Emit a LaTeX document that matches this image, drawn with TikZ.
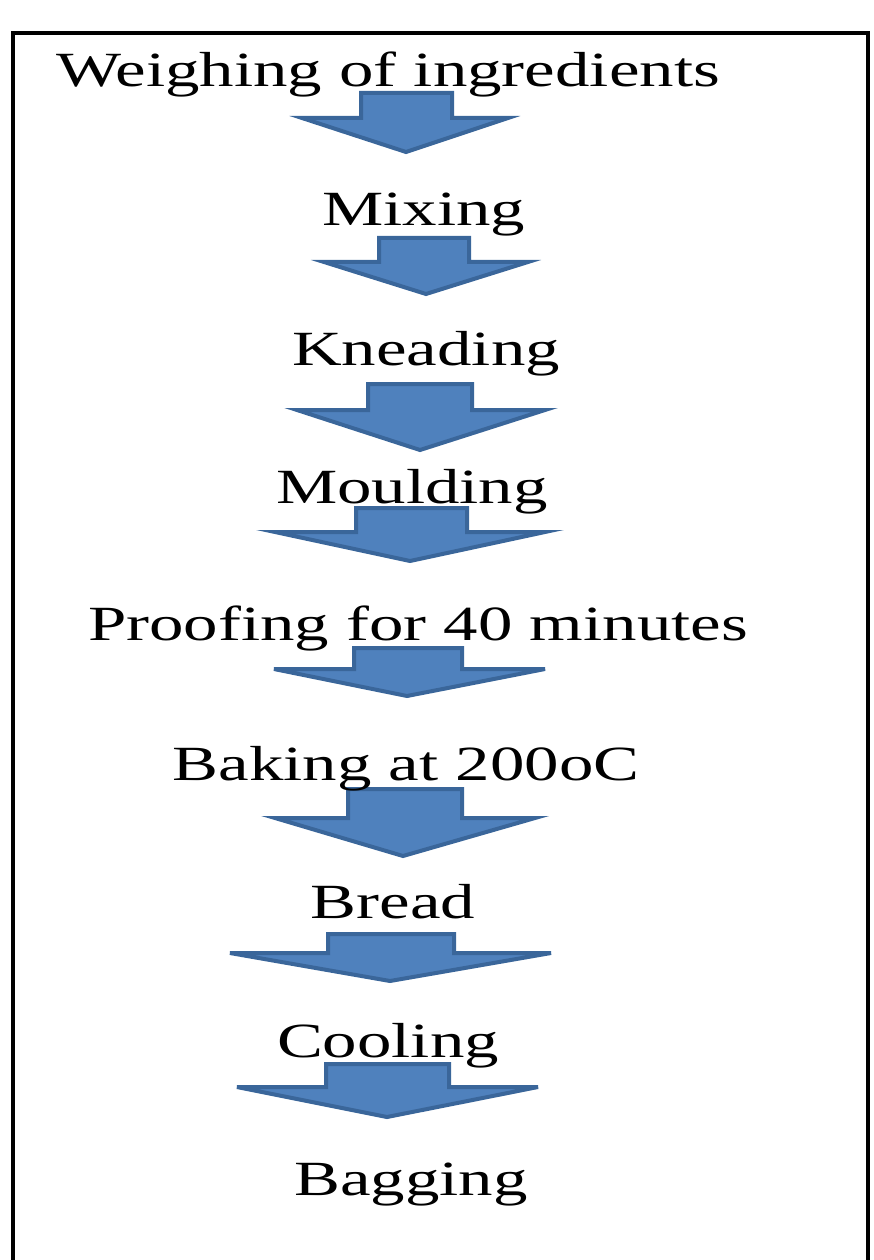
\documentclass[tikz,border=0pt]{standalone}
\usepackage{fontspec}
\setmainfont{Liberation Serif}
\usepackage{tikz}
\usetikzlibrary{positioning,calc}
\usepackage{xcolor}

\definecolor{arrowfill}{HTML}{4F81BD}
\definecolor{arrowline}{HTML}{3A669A}

% block arrow: shaft top, wing y, tip y, wing left, wing right, shaft left, shaft right, tip x
\newcommand{\downblock}[8]{%
  \draw[blockarrow] (#6,#1) -- (#7,#1) -- (#7,#2) -- (#5,#2) -- (#8,#3) -- (#4,#2) -- (#6,#2) -- cycle;}

\begin{document}
\begin{tikzpicture}[
    x=0.02cm, y=-0.02cm,
    stage/.style={anchor=base, inner sep=0pt, font=\fontsize{28}{31}\selectfont, xscale=1.4},
    blockarrow/.style={fill=arrowfill, draw=arrowline, line width=0.08cm, line join=miter}
]
\useasboundingbox (0,0) rectangle (874,1260);

% frame
\draw[line width=0.08cm] (13,1275) -- (13,33) -- (868,33) -- (868,1275);

% Arrows
\downblock{93}{118}{152}{302}{508}{361}{452}{406}
\downblock{238}{262}{294}{324}{528}{379}{469}{426}
\downblock{384}{410}{450}{297}{545}{368}{472}{420}
\downblock{508}{532}{561}{275}{545}{356}{467}{410}
\downblock{648}{669}{696}{274}{545}{354}{462}{407}
\downblock{789}{818}{856}{275}{535}{348}{462}{403}
\downblock{934}{953}{981}{230}{551}{328}{454}{390}
\downblock{1064}{1087}{1117}{237}{538}{326}{449}{387}

% Stages
\node[stage] (weigh) at (388,87) {Weighing of ingredients};
\node[stage] (mix) at (424,226) {Mixing};
\node[stage] (knead) at (426,365) {Kneading};
\node[stage] (mould) at (412,503) {Moulding};
\node[stage] (proof) at (418,640) {Proofing for 40 minutes};
\node[stage] (bake) at (406,780) {Baking at 200oC};
\node[stage] (bread) at (393,918) {Bread};
\node[stage] (cool) at (388,1057) {Cooling};
\node[stage] (bag) at (411,1195) {Bagging};

\end{tikzpicture}
\end{document}
